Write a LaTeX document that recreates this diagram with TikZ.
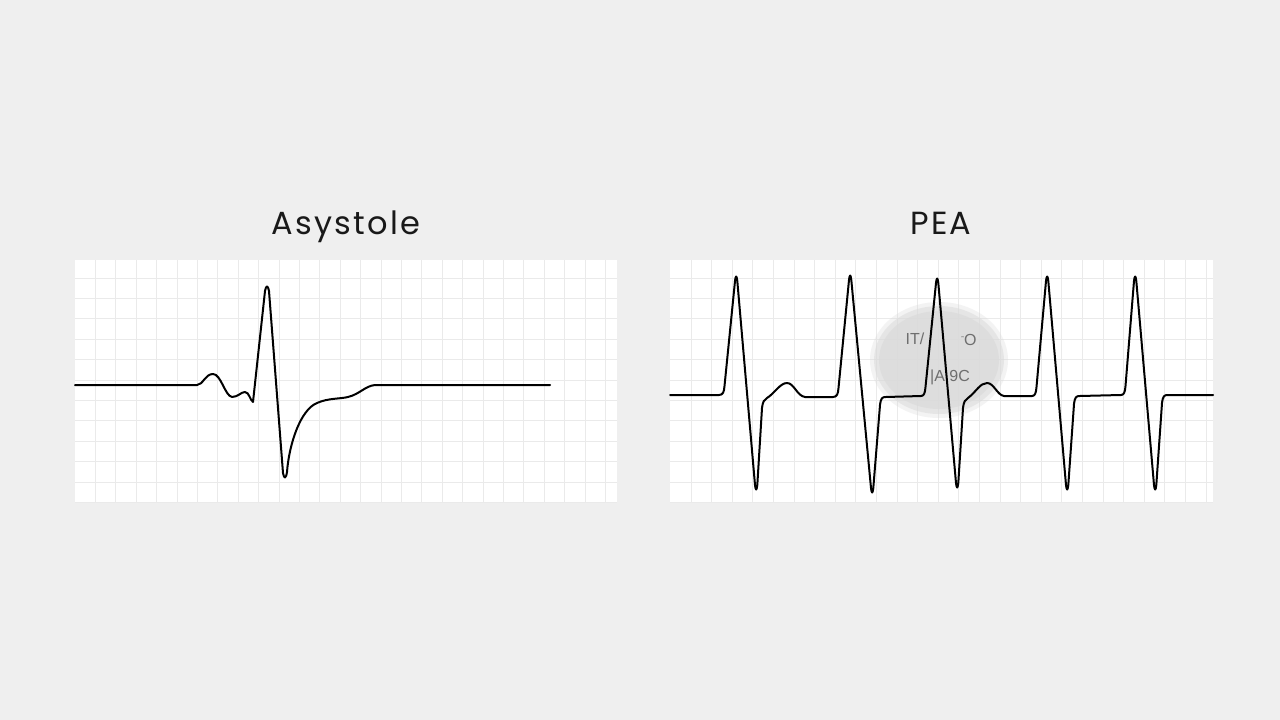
\documentclass[tikz,border=0pt]{standalone}
\usepackage{fontspec}
\setmainfont{Poppins}
\newfontfamily\titlefont[LetterSpace=7]{Poppins}
\newfontfamily\smallfont{Liberation Sans}
\definecolor{bgc}{HTML}{EFEFEF}
\definecolor{gridc}{HTML}{EAEAEA}
\definecolor{blobc}{HTML}{D9D9D9}
\definecolor{blobtext}{HTML}{6E6E6E}
\tikzset{
  ecg/.style={line width=2pt, black, line join=round, line cap=round},
  gridline/.style={gridc, line width=1pt},
  title/.style={font=\titlefont\fontsize{32}{34}\selectfont, text=black!90, inner sep=0pt, anchor=base},
  blobtxt/.style={font=\smallfont\fontsize{16}{17}\selectfont, text=blobtext, inner sep=0pt}
}
\begin{document}
\begin{tikzpicture}[x=1pt,y=-1pt]
\useasboundingbox (0,0) rectangle (1280,720);
\fill[bgc] (0,0) rectangle (1280,720);

% left panel
\fill[white] (75,260) rectangle (617,503);
\foreach \i in {0,...,25} {\draw[gridline] ({75+20.4*\i+20.4},260) -- ({75+20.4*\i+20.4},503);}
\foreach \j in {0,...,11} {\draw[gridline] (75,{278+20.4*\j}) -- (617,{278+20.4*\j});}

% right panel
\fill[white] (670,260) rectangle (1213,503);
\foreach \i in {0,...,25} {\draw[gridline] ({691+20.6*\i},260) -- ({691+20.6*\i},503);}
\foreach \j in {0,...,11} {\draw[gridline] (670,{278+20.4*\j}) -- (1213,{278+20.4*\j});}
\fill[bgc] (617,255) rectangle (670,510);
\fill[bgc] (1213,255) rectangle (1230,510);

% titles
\node[title] (asys) at (346,234) {Asystole};
\node[title] (pea) at (941,234) {PEA};

% grey blob
\fill[blobc, opacity=0.3] (939,360) ellipse [x radius=69, y radius=58];
\fill[blobc, opacity=0.5] (939,360) ellipse [x radius=65, y radius=54];
\fill[blobc, opacity=0.6] (939,360) ellipse [x radius=60, y radius=49];
\node[blobtxt] (b1) at (915,339) {IT/};
\node[blobtxt] (b2) at (969,340) {\raisebox{3pt}{\fontsize{8}{8}\selectfont\char"02DC}O};
\node[blobtxt] (b3) at (950,377) {|A.9C};

% asystole trace
\draw[ecg] (75,385) -- (197,385)
  .. controls (203,385) and (205,374) .. (213,374)
  .. controls (221,374) and (225,396) .. (232,397)
  .. controls (238,397) and (241,392) .. (245,392)
  .. controls (249,392) and (250,400) .. (253,402)
  -- (265,291) .. controls (266,285) and (268,285) .. (269,291)
  -- (283,473) .. controls (284,479) and (286,479) .. (287,472)
  .. controls (289,445) and (300,410) .. (317,403)
  .. controls (328,398) and (340,399) .. (348,397)
  .. controls (360,394) and (365,386) .. (375,385)
  -- (550,385);

% PEA trace
\draw[ecg] (670,395) -- (719,395)
  .. controls (723,395) and (724,392) .. (724.5,386)
  -- (735,281) .. controls (735.7,275) and (736.6,275) .. (737.3,281)
  -- (755,485) .. controls (755.7,491) and (756.6,491) .. (757.3,485)
  -- (762,408) .. controls (763,401) and (764,400) .. (767,398)
  .. controls (775,393) and (780,383) .. (787,383)
  .. controls (794,383) and (797,396) .. (805,397)
  -- (833,397) .. controls (837,397) and (838,394) .. (838.5,388)
  -- (849,280) .. controls (849.7,274) and (850.6,274) .. (851.3,280)
  -- (871,488) .. controls (871.7,494) and (872.6,494) .. (873.3,488)
  -- (880,405) .. controls (881,398) and (882,397) .. (886,397)
  -- (921,396) .. controls (924,396) and (925,393) .. (925.5,387)
  -- (936,283) .. controls (936.7,277) and (937.6,277) .. (938.3,283)
  -- (956,483) .. controls (956.7,489) and (957.6,489) .. (958.3,483)
  -- (963,408) .. controls (964,401) and (965,400) .. (968,398)
  .. controls (976,392) and (980,383) .. (987,383)
  .. controls (994,383) and (997,395) .. (1004,396)
  -- (1032,396) .. controls (1035,396) and (1036,393) .. (1036.5,387)
  -- (1046,281) .. controls (1046.7,275) and (1047.6,275) .. (1048.3,281)
  -- (1066,485) .. controls (1066.7,491) and (1067.6,491) .. (1068.3,485)
  -- (1074,404) .. controls (1075,397) and (1076,396) .. (1080,396)
  -- (1121,395) .. controls (1124,395) and (1125,392) .. (1125.5,386)
  -- (1134,281) .. controls (1134.7,275) and (1135.6,275) .. (1136.3,281)
  -- (1154,485) .. controls (1154.7,491) and (1155.6,491) .. (1156.3,485)
  -- (1162,403) .. controls (1163,396) and (1164,395) .. (1168,395)
  -- (1213,395);
\end{tikzpicture}
\end{document}
